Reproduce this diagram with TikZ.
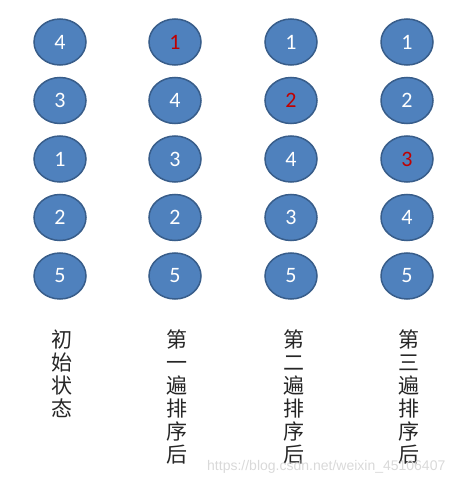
\documentclass[tikz,border=0pt]{standalone}
\usepackage{fontspec}
\setmainfont{Carlito}
\newfontfamily\cjk{Noto Sans CJK SC}
\newfontfamily\wm{Liberation Sans}
\usetikzlibrary{shapes.geometric}
\definecolor{ballfill}{HTML}{4F81BD}
\definecolor{balledge}{HTML}{385D8A}
\definecolor{hot}{HTML}{C00000}
\tikzset{
  ball/.style={ellipse, draw=balledge, fill=ballfill, line width=1.5pt,
    minimum width=52pt, minimum height=46pt, inner sep=0pt,
    text=white, font=\fontsize{22}{22}\selectfont},
  hotball/.style={ball, text=hot},
  vlabel/.style={anchor=north, align=center, inner sep=0pt,
    font=\cjk\fontsize{21}{23}\selectfont, text=black!85},
}
\begin{document}
\begin{tikzpicture}[x=1pt,y=-1pt]
\useasboundingbox (0,0) rectangle (474,484);
% column 1
\node[ball] (a1) at (60,42) {4};
\node[ball] (a2) at (60,100.5) {3};
\node[ball] (a3) at (60,159) {1};
\node[ball] (a4) at (60,217.5) {2};
\node[ball] (a5) at (60,276) {5};
% column 2
\node[hotball] (b1) at (175,42) {1};
\node[ball] (b2) at (175,100.5) {4};
\node[ball] (b3) at (175,159) {3};
\node[ball] (b4) at (175,217.5) {2};
\node[ball] (b5) at (175,276) {5};
% column 3
\node[ball] (c1) at (291,42) {1};
\node[hotball] (c2) at (291,100.5) {2};
\node[ball] (c3) at (291,159) {4};
\node[ball] (c4) at (291,217.5) {3};
\node[ball] (c5) at (291,276) {5};
% column 4
\node[ball] (d1) at (407,42) {1};
\node[ball] (d2) at (407,100.5) {2};
\node[hotball] (d3) at (407,159) {3};
\node[ball] (d4) at (407,217.5) {4};
\node[ball] (d5) at (407,276) {5};
% labels
\node[vlabel] (la) at (62,330) {初\\始\\状\\态};
\node[vlabel] (lb) at (177,330) {第\\一\\遍\\排\\序\\后};
\node[vlabel] (lc) at (294,330) {第\\二\\遍\\排\\序\\后};
\node[vlabel] (ld) at (409,330) {第\\三\\遍\\排\\序\\后};
% watermark
\node[anchor=west, inner sep=0pt, text=black!15, font=\wm\fontsize{14}{14}\selectfont] (wm) at (207,467) {https://blog.csdn.net/weixin\_45106407};
\end{tikzpicture}
\end{document}
